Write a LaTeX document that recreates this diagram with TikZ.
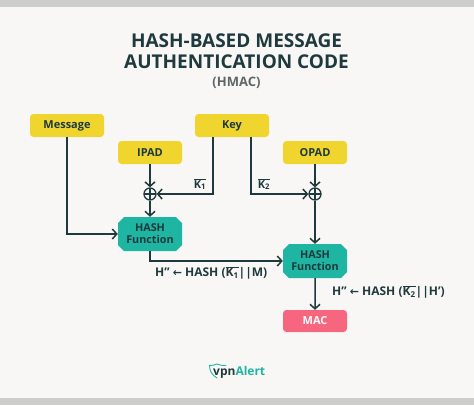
\documentclass[tikz,border=0pt]{standalone}
\usepackage{fontspec}
\setmainfont{Open Sans}
\newfontfamily\arrowfont{DejaVu Sans}
\usetikzlibrary{arrows.meta,shapes.misc}
\definecolor{bgc}{HTML}{F8F7F6}
\definecolor{barc}{HTML}{CDCDCB}
\definecolor{yellowc}{HTML}{F0D52F}
\definecolor{tealc}{HTML}{1FB5A3}
\definecolor{pinkc}{HTML}{F7667F}
\definecolor{darkc}{HTML}{1F3A3C}
\definecolor{greyc}{HTML}{5F6668}
\newcommand{\kbar}[1]{$\overline{\mbox{K\textsubscript{#1}}}$}
\newcommand{\larr}{{\arrowfont\fontsize{11}{11}\selectfont ←}}
\tikzset{
  x=1pt,y=-1pt,
  inputbox/.style={fill=yellowc,rounded corners=3.5pt,minimum height=23pt,inner sep=0pt,text=darkc,font=\fontsize{11}{13}\selectfont\bfseries},
  hashbox/.style={chamfered rectangle,chamfered rectangle xsep=3pt,chamfered rectangle ysep=3pt,fill=tealc,minimum width=64pt,minimum height=34pt,inner sep=0pt,text=darkc,align=center,font=\fontsize{10.8}{12}\selectfont\bfseries},
  macbox/.style={fill=pinkc,rounded corners=3.5pt,minimum width=64pt,minimum height=22pt,inner sep=0pt,text=white,font=\fontsize{11}{13}\selectfont\bfseries},
  xorc/.style={circle,draw=darkc,line width=1.3pt,minimum size=12pt,inner sep=0pt,path picture={\draw[darkc,line width=1.3pt] (path picture bounding box.north)--(path picture bounding box.south) (path picture bounding box.west)--(path picture bounding box.east);}},
  link/.style={draw=darkc,line width=1.5pt,-{Straight Barb[length=4.5pt,width=10pt,line width=1.5pt]}},
  lab/.style={text=darkc,inner sep=0pt,font=\fontsize{11}{13}\selectfont\bfseries},
  formula/.style={lab,anchor=west,font=\fontsize{12}{14}\selectfont\bfseries},
}
\begin{document}
\begin{tikzpicture}
\useasboundingbox (0,0) rectangle (474,405);
\fill[bgc] (0,0) rectangle (474,405);
\fill[barc] (0,0) rectangle (474,7);
\fill[barc] (0,398) rectangle (474,405);
\node[text=darkc,align=center,inner sep=0pt,font=\fontsize{19}{20.5}\selectfont\bfseries] (title) at (236.5,51) {HASH-BASED MESSAGE\\AUTHENTICATION CODE};
\node[text=greyc,inner sep=0pt,font=\fontsize{13}{15}\selectfont\bfseries] (sub) at (236.5,83) {(HMAC)};
\node[inputbox,minimum width=74pt] (msg) at (67,125.5) {Message};
\node[inputbox,minimum width=74pt] (key) at (232,125.5) {Key};
\node[inputbox,minimum width=64pt] (ipad) at (150,152.5) {IPAD};
\node[inputbox,minimum width=64pt] (opad) at (315,152.5) {OPAD};
\node[xorc] (x1) at (150,194) {};
\node[xorc] (x2) at (315,194) {};
\node[hashbox] (h1) at (150,234) {HASH\\Function};
\node[hashbox] (h2) at (315,261) {HASH\\Function};
\node[macbox] (mac) at (315,321) {MAC};
\coordinate (keyl) at (213,137);
\coordinate (keyr) at (251,137);
\coordinate (msgb) at (67,137);
\coordinate (h1b) at (150,251);
\draw[link] (ipad) -- (x1);
\draw[link] (opad) -- (x2);
\draw[link] (x1) -- (h1);
\draw[link] (x2) -- (h2);
\draw[link] (h2) -- (mac);
\draw[link] (msg.south) -- (msgb |- h1.west) -- (h1.west);
\draw[link] (keyl) -- (keyl |- x1.east) -- (x1.east);
\draw[link] (keyr) -- (keyr |- x2.west) -- (x2.west);
\draw[link] (h1.south) -- (h1b |- 0,261) -- (h2.west |- 0,261);
\node[lab] (k1) at (200,184) {\kbar{1}};
\node[lab] (k2) at (264,184) {\kbar{2}};
\node[formula] (f1) at (155,273) {H” \larr{} HASH (\kbar{1}||M)};
\node[formula] (f2) at (332,292) {H” \larr{} HASH (\kbar{2}||H’)};
\draw[tealc,line width=.9pt,line cap=round] (226,365.5) .. controls (222,365.5) and (219,365) .. (217,364) .. controls (215,365) and (212,365.5) .. (209.5,365.5) .. controls (209.5,371) and (212,375) .. (217,378);
\node[inner sep=0pt,anchor=base west,font=\fontsize{12}{14}\selectfont\bfseries] (logo) at (213,375) {\textcolor{darkc}{vpn}\textcolor{tealc}{Alert}};
\end{tikzpicture}
\end{document}
